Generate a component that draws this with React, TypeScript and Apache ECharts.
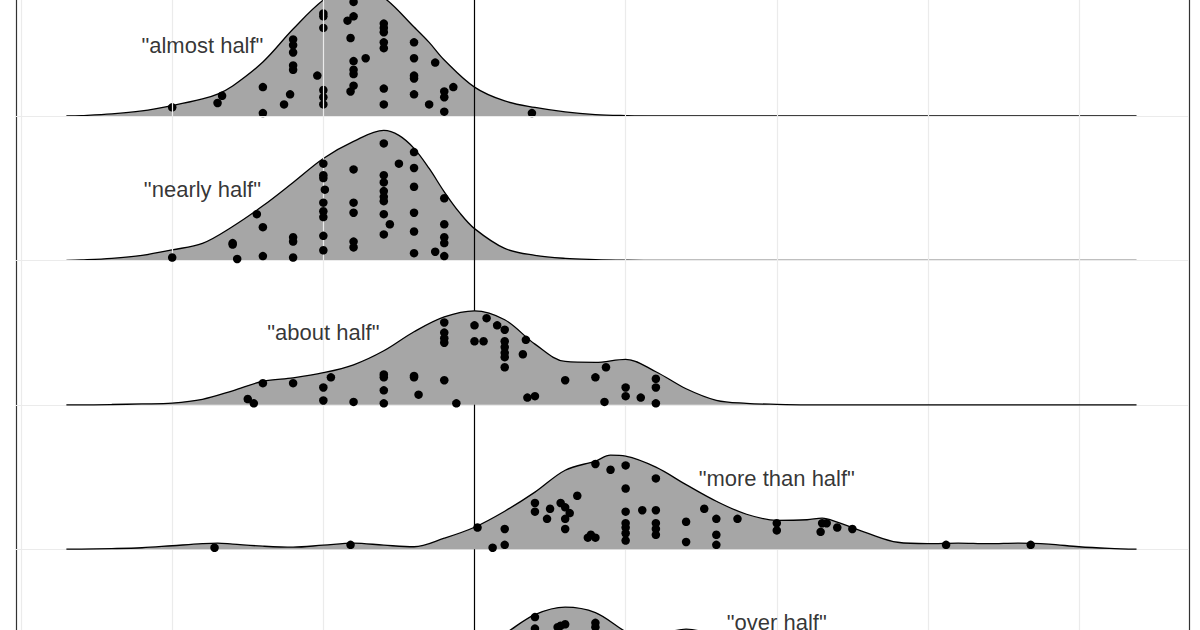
import { useEffect, useRef } from 'react';
import * as echarts from 'echarts';

// ridge names (top to bottom) and the level of each baseline
const rowNames = ['"almost half"', '"nearly half"', '"about half"', '"more than half"', '"over half"'];
const rowLevels = [4, 3, 2, 1, 0];

// where each row's name sits: [percent, height above its baseline]
const labelSpots: [number, number][] = [
  [41, 0.49],
  [41, 0.49],
  [45, 0.5],
  [60, 0.49],
  [60, 0.49],
];

// vertical guide lines (percent)
const gridTicks = [35, 40, 45, 55, 60, 65, 70];
const refLine = 50;

// density outlines: [percent, height in row units]
const almostHalfDensity: [number, number][] = [
  [36.5, 0], [37, 0.003], [38, 0.014], [39, 0.035], [40, 0.072], [41, 0.118], [41.5, 0.152],
  [42, 0.208], [43, 0.374], [44, 0.602], [45, 0.803], [46, 0.921], [47, 0.82], [48, 0.616],
  [48.5, 0.51], [49, 0.388], [50, 0.2], [51, 0.104], [52, 0.059], [53, 0.028], [54, 0.01],
  [55, 0.003], [56, 0], [60, 0], [65, 0], [71.9, 0],
];
const nearlyHalfDensity: [number, number][] = [
  [36.5, 0], [37, 0.003], [38, 0.014], [39, 0.035], [40, 0.073], [41, 0.118], [42, 0.235],
  [43, 0.378], [44, 0.54], [45, 0.706], [46, 0.824], [47, 0.9], [47.5, 0.866], [48, 0.776],
  [48.5, 0.637], [49, 0.475], [49.5, 0.332], [50, 0.22], [51, 0.083], [52, 0.035], [53, 0.014],
  [54, 0.006], [55, 0.002], [56, 0], [60, 0], [65, 0], [71.9, 0],
];
const aboutHalfDensity: [number, number][] = [
  [36.5, 0], [37, 0], [38, 0.002], [39, 0.006], [40, 0.012], [41, 0.038], [42, 0.097],
  [43, 0.163], [44, 0.187], [45, 0.222], [46, 0.277], [47, 0.374], [48, 0.506], [49, 0.609],
  [50, 0.651], [51, 0.589], [52, 0.42], [53, 0.3], [54, 0.294], [55, 0.315], [56, 0.229],
  [57, 0.111], [58, 0.031], [59, 0.01], [60, 0.003], [61, 0], [65, 0], [71.9, 0],
];
const moreThanHalfDensity: [number, number][] = [
  [36.5, 0], [37, 0.001], [38, 0.004], [39, 0.01], [40, 0.024], [41, 0.038], [41.5, 0.042],
  [42, 0.035], [43, 0.021], [44, 0.014], [45, 0.028], [46, 0.042], [47, 0.028], [48, 0.017],
  [49, 0.076], [50, 0.152], [51, 0.263], [52, 0.395], [53, 0.547], [54, 0.61], [54.5, 0.651],
  [55, 0.644], [56, 0.568], [57, 0.447], [58, 0.332], [59, 0.242], [60, 0.2], [61, 0.204],
  [61.5, 0.215], [62, 0.187], [63, 0.111], [64, 0.048], [65, 0.038], [66, 0.042], [67, 0.038],
  [68, 0.042], [69, 0.035], [70, 0.017], [71, 0.006], [71.9, 0],
];
const overHalfDensity: [number, number][] = [
  [36.5, 0], [42, 0], [43, 0.003], [44, 0.007], [45, 0.014], [46, 0.028], [47, 0.055],
  [48, 0.104], [49, 0.187], [50, 0.298], [51, 0.415], [52, 0.547], [53, 0.599], [54, 0.561],
  [55, 0.429], [55.5, 0.388], [56, 0.395], [56.5, 0.429], [57, 0.447], [57.5, 0.429],
  [58, 0.374], [59, 0.242], [60, 0.139], [61, 0.083], [62, 0.055], [63, 0.035], [64, 0.028],
  [65, 0.021], [66, 0.014], [67, 0.007], [68, 0.003], [69, 0], [71.9, 0],
];

// individual answers: [percent, jittered height in row units]
const almostHalfPoints: [number, number][] = [
  [40, 0.06], [41.5, 0.09], [41.65, 0.14], [43, 0.2], [43, 0.02], [43.7, 0.08], [43.9, 0.15],
  [44, 0.53], [44, 0.49], [44, 0.44], [44, 0.35], [44, 0.32], [44.8, 0.28],
  [45, 0.71], [45, 0.69], [45, 0.61], [45, 0.18], [45, 0.13], [45, 0.08],
  [45.8, 0.66], [46, 0.69], [45.9, 0.54], [46, 0.79], [46, 0.38], [46, 0.32], [46, 0.29],
  [46, 0.21], [45.9, 0.17], [46.4, 0.4],
  [47, 0.64], [47, 0.61], [47, 0.58], [47, 0.51], [47, 0.47], [47, 0.19], [47, 0.08],
  [48, 0.51], [48, 0.4], [48, 0.28], [48, 0.26], [48, 0.15], [48.7, 0.37], [48.5, 0.08],
  [49, 0.17], [49, 0.13], [49, 0.03], [49.3, 0.2], [51.9, 0.02],
];
const nearlyHalfPoints: [number, number][] = [
  [40, 0.02], [42, 0.12], [42, 0.11], [42.15, 0.01], [42.8, 0.32], [43, 0.23], [43, 0.03],
  [44, 0.16], [44, 0.13], [44, 0.02],
  [45, 0.67], [45, 0.59], [45, 0.57], [45.05, 0.49], [45, 0.4], [45, 0.34], [45, 0.3],
  [45, 0.17], [45, 0.07],
  [46, 0.63], [46, 0.4], [46, 0.33], [46, 0.13], [46, 0.09],
  [47, 0.81], [47, 0.59], [47, 0.54], [47, 0.48], [47, 0.44], [47, 0.41], [47, 0.32],
  [47, 0.18], [47.2, 0.25], [47.5, 0.67],
  [48, 0.75], [48, 0.64], [48, 0.51], [48, 0.33], [48, 0.2], [48, 0.05], [48.7, 0.06],
  [49, 0.43], [49, 0.25], [49, 0.16], [49, 0.12], [49, 0.03],
];
const aboutHalfPoints: [number, number][] = [
  [42.5, 0.04], [42.7, 0.01], [43, 0.15], [44, 0.15], [45, 0.12], [45, 0.03], [45.25, 0.19],
  [46, 0.02], [47, 0.21], [47, 0.19], [47, 0.1], [47, 0.01], [48, 0.2], [48, 0.19],
  [48.15, 0.07], [49, 0.57], [49, 0.5], [49, 0.46], [49, 0.43], [49, 0.17], [49.4, 0.01],
  [50, 0.55], [50, 0.44], [50.3, 0.44], [50.4, 0.6], [50.75, 0.55],
  [51, 0.52], [51, 0.44], [51, 0.4], [51, 0.36], [51, 0.33], [51, 0.26],
  [51.7, 0.45], [51.6, 0.35], [51.75, 0.05], [52, 0.06], [53, 0.17], [54, 0.19],
  [54.35, 0.26], [54.3, 0.02], [55, 0.12], [55, 0.06], [55.5, 0.05],
  [56, 0.18], [56, 0.12], [56, 0.01],
];
const moreThanHalfPoints: [number, number][] = [
  [41.4, 0.01], [45.9, 0.03], [50.1, 0.15], [50.6, 0.01], [51, 0.14], [51, 0.03],
  [52, 0.32], [52, 0.26], [52.5, 0.28], [52.4, 0.21], [52.85, 0.32], [53, 0.29],
  [53.15, 0.25], [53, 0.21], [53, 0.14], [53.4, 0.37], [53.75, 0.08], [53.85, 0.1],
  [54, 0.08], [54, 0.59], [54.5, 0.55],
  [55, 0.58], [55, 0.42], [55, 0.26], [55, 0.18], [55, 0.15], [55, 0.11], [55, 0.06],
  [55.55, 0.27], [56, 0.49], [56, 0.27], [56, 0.18], [56, 0.14], [56, 0.1],
  [57, 0.19], [57, 0.05], [57.6, 0.28], [58, 0.21], [58, 0.1], [58, 0.03], [58.7, 0.21],
  [60, 0.18], [60, 0.13], [61.45, 0.12], [61.5, 0.18], [61.65, 0.18], [62, 0.15],
  [62.5, 0.14], [65.6, 0.03], [68.4, 0.03],
];
const overHalfPoints: [number, number][] = [
  [52, 0.53], [52, 0.45], [52.75, 0.46], [52.85, 0.47], [53, 0.48], [54, 0.49], [54, 0.46],
];

const densities = [almostHalfDensity, nearlyHalfDensity, aboutHalfDensity, moreThanHalfDensity, overHalfDensity];
const pointSets = [almostHalfPoints, nearlyHalfPoints, aboutHalfPoints, moreThanHalfPoints, overHalfPoints];

// visible window of the (cropped) panel
const X_MIN = 34.833;
const X_MAX = 73.636;
const Y_MIN = 0.4404;
const Y_MAX = 4.8033;

const FILL = '#a6a6a6';
const FONT = '"Liberation Sans", Arial, sans-serif';

// a y axis used only for its line, i.e. the panel's side border
const borderAxis = (position: 'left' | 'right') => ({
  type: 'value',
  position,
  min: Y_MIN,
  max: Y_MAX,
  axisLine: { show: true, onZero: false, lineStyle: { color: '#333', width: 1.2 } },
  axisTick: { show: false },
  axisLabel: { show: false },
  splitLine: { show: false },
});

export default function App() {
  const divRef = useRef<HTMLDivElement>(null);

  useEffect(() => {
    if (!divRef.current) return;
    const chart = echarts.init(divRef.current, undefined, { renderer: 'svg' });

    const ridgeSeries: any[] = [];
    rowLevels.forEach((level, i) => {
      ridgeSeries.push({
        name: rowNames[i],
        type: 'line',
        data: densities[i].map(([x, h]) => [x, level + h]),
        smooth: 0.35,
        symbol: 'none',
        lineStyle: { color: '#000', width: 1.3 },
        areaStyle: { color: FILL, opacity: 1, origin: level },
        z: 2 + i * 2,
        silent: true,
      });
      ridgeSeries.push({
        type: 'scatter',
        data: pointSets[i].map(([x, h]) => [x, level + h]),
        symbolSize: 8.5,
        itemStyle: { color: '#000', opacity: 1 },
        z: 3 + i * 2,
        silent: true,
      });
    });

    chart.setOption({
      animation: false,
      backgroundColor: '#fff',
      grid: { left: 16, right: 11, top: 0, bottom: 0 },
      xAxis: { type: 'value', min: X_MIN, max: X_MAX, show: false },
      yAxis: [borderAxis('left'), borderAxis('right')],
      series: [
        {
          type: 'line',
          data: [],
          z: 1,
          silent: true,
          markLine: {
            silent: true,
            symbol: ['none', 'none'],
            label: { show: false },
            lineStyle: { color: '#ebebeb', width: 1.2, type: 'solid' },
            data: [
              ...gridTicks.map(v => ({ xAxis: v })),
              ...rowLevels.map(v => ({ yAxis: v })),
            ],
          },
        },
        ...ridgeSeries,
        {
          type: 'line',
          data: [],
          z: 30,
          silent: true,
          markLine: {
            silent: true,
            symbol: ['none', 'none'],
            label: { show: false },
            lineStyle: { color: '#000', width: 1.2, type: 'solid' },
            data: [{ xAxis: refLine }],
          },
        },
        {
          type: 'scatter',
          z: 40,
          silent: true,
          symbolSize: 0,
          data: rowNames.map((name, i) => ({
            name,
            value: [labelSpots[i][0], rowLevels[i] + labelSpots[i][1]],
          })),
          label: {
            show: true,
            position: 'inside',
            formatter: '{b}',
            color: '#000',
            fontSize: 22,
            fontFamily: FONT,
          },
        },
      ],
    });

    return () => chart.dispose();
  }, []);

  return (
    <div
      ref={divRef}
      style={{ position: 'fixed', left: 0, top: 0, width: 1200, height: 630, background: '#fff' }}
    />
  );
}
